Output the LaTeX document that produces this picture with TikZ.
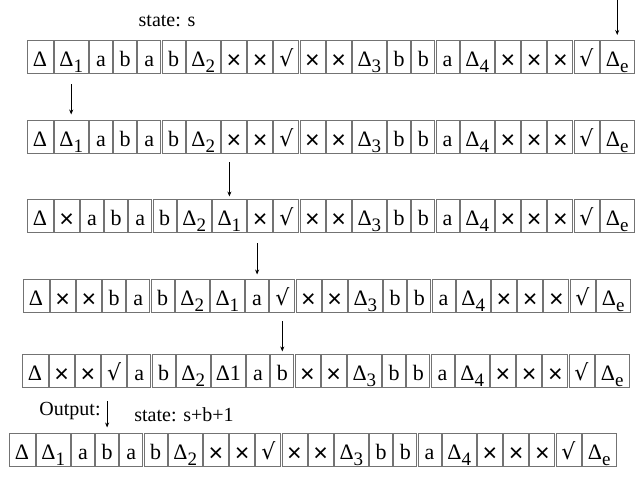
\documentclass[tikz,border=0pt]{standalone}
\usepackage{fontspec}
\setmainfont{Liberation Serif}
\newfontfamily\crossfont{Liberation Sans}
\newfontfamily\rootfont{DejaVu Serif}
\usepackage{tikz}
\usetikzlibrary{positioning,arrows.meta}

\newcommand{\D}{Δ}
\newcommand{\Ds}[1]{Δ\raisebox{-6pt}{\fontsize{19}{19}\selectfont #1}}
\newcommand{\X}{\raisebox{-2pt}{\crossfont\fontsize{25}{25}\selectfont ×}}
\newcommand{\V}{{\rootfont\fontsize{22}{22}\selectfont √}}

\tikzset{
  cell/.style={draw=black!55, line width=0.8pt, inner sep=0pt, outer sep=0pt,
    minimum height=33pt, text height=21pt, text depth=1pt,
    font=\fontsize{22}{22}\selectfont},
  wide/.style={minimum width=34pt},
  mid/.style={minimum width=26pt},
  sq/.style={minimum width=25pt},
  thin/.style={minimum width=23pt},
  ptr/.style={-{Stealth[length=5pt,width=4pt]}, line width=0.8pt},
  label/.style={font=\fontsize{20}{20}\selectfont}
}

% one row of tape cells: name, start, list of style/text
\newcommand{\cellrow}[3]{%
  \foreach \s/\t [count=\i] in {#3} {
    \ifnum\i=1
      \node[cell,\s,anchor=west] (#1-\i) at (#2) {\t};
    \else
      \pgfmathtruncatemacro\j{\i-1}
      \node[cell,\s,right=1.2pt of #1-\j] (#1-\i) {\t};
    \fi
  }}

\begin{document}
\begin{tikzpicture}[x=1pt,y=-1pt]
	\useasboundingbox (0,0) rectangle (638,478);
	\node[label] (state1) at (167,21) {state: s};
	\cellrow{r1}{27,56.5}{mid/\D, wide/\Ds1, thin/a, thin/b, thin/a, thin/b, wide/\Ds2, sq/\X, sq/\X, sq/\V, sq/\X, sq/\X, wide/\Ds3, thin/b, thin/b, thin/a, wide/\Ds4, sq/\X, sq/\X, sq/\X, sq/\V, wide/\Ds e}
	\cellrow{r2}{27,137}{mid/\D, wide/\Ds1, thin/a, thin/b, thin/a, thin/b, wide/\Ds2, sq/\X, sq/\X, sq/\V, sq/\X, sq/\X, wide/\Ds3, thin/b, thin/b, thin/a, wide/\Ds4, sq/\X, sq/\X, sq/\X, sq/\V, wide/\Ds e}
	\cellrow{r3}{27,216}{mid/\D, sq/\X, thin/a, thin/b, thin/a, thin/b, wide/\Ds2, wide/\Ds1, sq/\X, sq/\V, sq/\X, sq/\X, wide/\Ds3, thin/b, thin/b, thin/a, wide/\Ds4, sq/\X, sq/\X, sq/\X, sq/\V, wide/\Ds e}
	\cellrow{r4}{23,296}{mid/\D, sq/\X, sq/\X, thin/b, thin/a, thin/b, wide/\Ds2, wide/\Ds1, thin/a, sq/\V, sq/\X, sq/\X, wide/\Ds3, thin/b, thin/b, thin/a, wide/\Ds4, sq/\X, sq/\X, sq/\X, sq/\V, wide/\Ds e}
	\cellrow{r5}{22,371}{mid/\D, sq/\X, sq/\X, sq/\V, thin/a, thin/b, wide/\Ds2, wide/Δ1, thin/a, thin/b, sq/\X, sq/\X, wide/\Ds3, thin/b, thin/b, thin/a, wide/\Ds4, sq/\X, sq/\X, sq/\X, sq/\V, wide/\Ds e}
	\node[label] (output) at (70,411) {Output:};
	\node[label] (state2) at (184,415) {state: s+b+1};
	\cellrow{r6}{9,450}{mid/\D, wide/\Ds1, thin/a, thin/b, thin/a, thin/b, wide/\Ds2, sq/\X, sq/\X, sq/\V, sq/\X, sq/\X, wide/\Ds3, thin/b, thin/b, thin/a, wide/\Ds4, sq/\X, sq/\X, sq/\X, sq/\V, wide/\Ds e}
	% head positions
	\coordinate (h1) at ([yshift=40pt]r1-22.north);
	\coordinate (h2) at ([yshift=36pt]r2-2.north);
	\coordinate (h3) at ([yshift=37pt]r3-8.north);
	\coordinate (h4) at ([yshift=36pt]r4-9.north);
	\coordinate (h5) at ([yshift=33pt]r5-10.north);
	\coordinate (h6) at ([yshift=32pt]r6-4.north);
	\draw[ptr, shorten >=5pt] (h1) -- (r1-22.north);
	\draw[ptr, shorten >=6pt] (h2) -- (r2-2.north);
	\draw[ptr, shorten >=3pt] (h3) -- (r3-8.north);
	\draw[ptr, shorten >=5pt] (h4) -- (r4-9.north);
	\draw[ptr, shorten >=3pt] (h5) -- (r5-10.north);
	\draw[ptr, shorten >=6pt] (h6) -- (r6-4.north);
\end{tikzpicture}
\end{document}
